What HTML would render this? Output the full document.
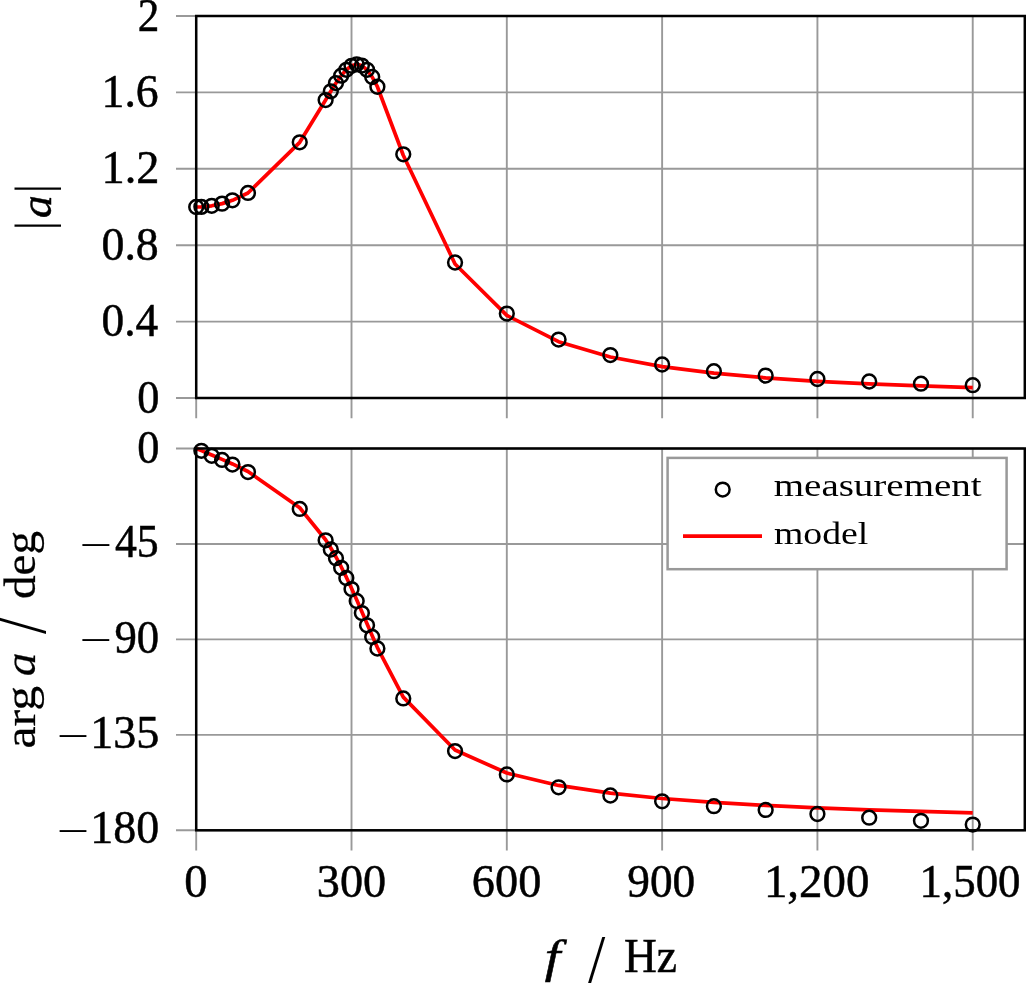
<!DOCTYPE html>
<html><head><meta charset="utf-8"><title>Bode plot</title>
<style>html,body{margin:0;padding:0;background:#fff;}svg{display:block;}</style>
</head><body>
<svg width="1026" height="983" viewBox="0 0 1026 983">
<rect width="1026" height="983" fill="#fff"/>
<g stroke="#999999" stroke-width="1.9" fill="none"><line x1="196.20" y1="16.00" x2="196.20" y2="418.20"/><line x1="351.51" y1="16.00" x2="351.51" y2="418.20"/><line x1="506.81" y1="16.00" x2="506.81" y2="418.20"/><line x1="662.12" y1="16.00" x2="662.12" y2="418.20"/><line x1="817.42" y1="16.00" x2="817.42" y2="418.20"/><line x1="972.73" y1="16.00" x2="972.73" y2="418.20"/><line x1="176.00" y1="398.00" x2="1024.50" y2="398.00"/><line x1="176.00" y1="321.60" x2="1024.50" y2="321.60"/><line x1="176.00" y1="245.20" x2="1024.50" y2="245.20"/><line x1="176.00" y1="168.80" x2="1024.50" y2="168.80"/><line x1="176.00" y1="92.40" x2="1024.50" y2="92.40"/><line x1="176.00" y1="16.00" x2="1024.50" y2="16.00"/></g>
<polyline points="196.20,207.00 201.38,206.87 211.73,205.80 222.08,203.63 232.44,200.31 247.97,192.97 299.74,142.31 325.62,100.06 330.80,91.30 335.98,83.04 341.15,75.70 346.33,69.79 351.51,65.83 356.68,64.30 361.86,65.58 367.04,69.84 372.21,77.00 377.39,86.74 403.27,155.27 455.04,263.96 506.81,315.38 558.58,341.72 610.35,356.97 662.12,366.65 713.89,373.20 765.66,377.86 817.42,381.30 869.19,383.91 920.96,385.95 972.73,387.57" fill="none" stroke="#f00" stroke-width="3.7" stroke-linejoin="round"/>
<g fill="none" stroke="#000" stroke-width="2.5"><circle cx="196.20" cy="207.00" r="6.9"/><circle cx="201.38" cy="206.87" r="6.9"/><circle cx="211.73" cy="205.80" r="6.9"/><circle cx="222.08" cy="203.63" r="6.9"/><circle cx="232.44" cy="200.31" r="6.9"/><circle cx="247.97" cy="192.97" r="6.9"/><circle cx="299.74" cy="142.31" r="6.9"/><circle cx="325.62" cy="100.06" r="6.9"/><circle cx="330.80" cy="91.30" r="6.9"/><circle cx="335.98" cy="83.04" r="6.9"/><circle cx="341.15" cy="75.70" r="6.9"/><circle cx="346.33" cy="69.79" r="6.9"/><circle cx="351.51" cy="65.83" r="6.9"/><circle cx="356.68" cy="64.30" r="6.9"/><circle cx="361.86" cy="65.58" r="6.9"/><circle cx="367.04" cy="69.84" r="6.9"/><circle cx="372.21" cy="77.00" r="6.9"/><circle cx="377.39" cy="86.74" r="6.9"/><circle cx="403.27" cy="154.30" r="6.9"/><circle cx="455.04" cy="262.50" r="6.9"/><circle cx="506.81" cy="313.60" r="6.9"/><circle cx="558.58" cy="339.60" r="6.9"/><circle cx="610.35" cy="355.10" r="6.9"/><circle cx="662.12" cy="364.50" r="6.9"/><circle cx="713.89" cy="371.20" r="6.9"/><circle cx="765.66" cy="375.60" r="6.9"/><circle cx="817.42" cy="379.00" r="6.9"/><circle cx="869.19" cy="381.50" r="6.9"/><circle cx="920.96" cy="383.70" r="6.9"/><circle cx="972.73" cy="385.20" r="6.9"/></g>
<rect x="196.2" y="16.0" width="828.60" height="382.00" fill="none" stroke="#000" stroke-width="2.5"/>
<g stroke="#999999" stroke-width="1.9" fill="none"><line x1="196.20" y1="448.50" x2="196.20" y2="850.50"/><line x1="351.51" y1="448.50" x2="351.51" y2="850.50"/><line x1="506.81" y1="448.50" x2="506.81" y2="850.50"/><line x1="662.12" y1="448.50" x2="662.12" y2="850.50"/><line x1="817.42" y1="448.50" x2="817.42" y2="850.50"/><line x1="972.73" y1="448.50" x2="972.73" y2="850.50"/><line x1="176.00" y1="448.50" x2="1024.50" y2="448.50"/><line x1="176.00" y1="543.95" x2="1024.50" y2="543.95"/><line x1="176.00" y1="639.40" x2="1024.50" y2="639.40"/><line x1="176.00" y1="734.85" x2="1024.50" y2="734.85"/><line x1="176.00" y1="830.30" x2="1024.50" y2="830.30"/></g>
<polyline points="196.20,448.50 201.38,450.63 211.73,454.92 222.08,459.33 232.44,463.94 247.97,471.46 299.74,507.74 325.62,539.73 330.80,548.01 335.98,557.00 341.15,566.73 346.33,577.16 351.51,588.23 356.68,599.81 361.86,611.75 367.04,623.83 372.21,635.84 377.39,647.57 403.27,697.15 455.04,749.99 506.81,773.03 558.58,785.44 610.35,793.19 662.12,798.53 713.89,802.45 765.66,805.47 817.42,807.86 869.19,809.82 920.96,811.45 972.73,812.83" fill="none" stroke="#f00" stroke-width="3.7" stroke-linejoin="round"/>
<g fill="none" stroke="#000" stroke-width="2.5"><circle cx="201.38" cy="450.80" r="6.9"/><circle cx="211.73" cy="455.80" r="6.9"/><circle cx="222.08" cy="459.90" r="6.9"/><circle cx="232.44" cy="464.60" r="6.9"/><circle cx="247.97" cy="472.10" r="6.9"/><circle cx="299.74" cy="508.90" r="6.9"/><circle cx="325.62" cy="540.30" r="6.9"/><circle cx="330.80" cy="549.50" r="6.9"/><circle cx="335.98" cy="558.20" r="6.9"/><circle cx="341.15" cy="567.80" r="6.9"/><circle cx="346.33" cy="578.00" r="6.9"/><circle cx="351.51" cy="589.10" r="6.9"/><circle cx="356.68" cy="601.00" r="6.9"/><circle cx="361.86" cy="613.10" r="6.9"/><circle cx="367.04" cy="625.30" r="6.9"/><circle cx="372.21" cy="636.90" r="6.9"/><circle cx="377.39" cy="648.50" r="6.9"/><circle cx="403.27" cy="698.40" r="6.9"/><circle cx="455.04" cy="751.10" r="6.9"/><circle cx="506.81" cy="774.40" r="6.9"/><circle cx="558.58" cy="787.30" r="6.9"/><circle cx="610.35" cy="795.50" r="6.9"/><circle cx="662.12" cy="801.30" r="6.9"/><circle cx="713.89" cy="806.20" r="6.9"/><circle cx="765.66" cy="809.90" r="6.9"/><circle cx="817.42" cy="814.00" r="6.9"/><circle cx="869.19" cy="817.70" r="6.9"/><circle cx="920.96" cy="820.80" r="6.9"/><circle cx="972.73" cy="824.60" r="6.9"/></g>
<rect x="196.2" y="448.5" width="828.60" height="381.80" fill="none" stroke="#000" stroke-width="2.5"/>
<rect x="667.6" y="457.9" width="339.0" height="111.3" fill="#fff" stroke="#999" stroke-width="2.5"/>
<circle cx="722.7" cy="489.6" r="6.9" fill="none" stroke="#000" stroke-width="2.5"/>
<line x1="683" y1="536.2" x2="762" y2="536.2" stroke="#f00" stroke-width="3.7"/>
<g font-family='"Liberation Serif", "DejaVu Serif", serif' fill="#000" stroke="#000" stroke-width="0.5">
<text x="137.65" y="30.60" font-size="46.8" textLength="21.58" lengthAdjust="spacingAndGlyphs">2</text>
<text x="101.53" y="107.00" font-size="46.8" textLength="57.18" lengthAdjust="spacingAndGlyphs">1.6</text>
<text x="101.58" y="183.40" font-size="46.8" textLength="57.93" lengthAdjust="spacingAndGlyphs">1.2</text>
<text x="101.50" y="259.80" font-size="46.8" textLength="57.29" lengthAdjust="spacingAndGlyphs">0.8</text>
<text x="101.52" y="336.20" font-size="46.8" textLength="56.74" lengthAdjust="spacingAndGlyphs">0.4</text>
<text x="137.16" y="412.60" font-size="46.8" textLength="22.18" lengthAdjust="spacingAndGlyphs">0</text>
<text x="137.16" y="463.10" font-size="46.8" textLength="22.18" lengthAdjust="spacingAndGlyphs">0</text>
<text x="114.90" y="557.10" font-size="46.8" textLength="43.76" lengthAdjust="spacingAndGlyphs">45</text>
<text x="79.41" y="558.00" font-size="39.0" stroke-width="0" textLength="32.72" lengthAdjust="spacingAndGlyphs">−</text>
<text x="114.41" y="652.55" font-size="46.8" textLength="44.75" lengthAdjust="spacingAndGlyphs">90</text>
<text x="79.62" y="653.45" font-size="39.0" stroke-width="0" textLength="32.60" lengthAdjust="spacingAndGlyphs">−</text>
<text x="90.20" y="748.00" font-size="46.8" textLength="69.04" lengthAdjust="spacingAndGlyphs">135</text>
<text x="56.83" y="748.90" font-size="39.0" stroke-width="0" textLength="32.48" lengthAdjust="spacingAndGlyphs">−</text>
<text x="90.21" y="843.45" font-size="46.8" textLength="68.99" lengthAdjust="spacingAndGlyphs">180</text>
<text x="56.83" y="844.35" font-size="39.0" stroke-width="0" textLength="32.48" lengthAdjust="spacingAndGlyphs">−</text>
<text x="184.28" y="896.50" font-size="46.8" textLength="23.24" lengthAdjust="spacingAndGlyphs">0</text>
<text x="316.84" y="896.50" font-size="46.8" textLength="69.37" lengthAdjust="spacingAndGlyphs">300</text>
<text x="471.86" y="896.50" font-size="46.8" textLength="69.45" lengthAdjust="spacingAndGlyphs">600</text>
<text x="627.29" y="896.50" font-size="46.8" textLength="67.99" lengthAdjust="spacingAndGlyphs">900</text>
<text x="763.93" y="896.50" font-size="46.8" textLength="105.51" lengthAdjust="spacingAndGlyphs">1,200</text>
<text x="919.61" y="896.50" font-size="46.8" textLength="100.95" lengthAdjust="spacingAndGlyphs">1,500</text>
<text x="544.82" y="971.60" font-size="46.5" font-style="italic" textLength="15.64" lengthAdjust="spacingAndGlyphs">f</text>
<text x="587.80" y="982.50" font-size="69.4" stroke-width="0" textLength="17.50" lengthAdjust="spacingAndGlyphs">/</text>
<text x="623.94" y="971.60" font-size="47.5" textLength="53.08" lengthAdjust="spacingAndGlyphs">Hz</text>
<text transform="translate(50.30,192.92) rotate(-90)" font-size="50.9" stroke-width="0" textLength="8.84" lengthAdjust="spacingAndGlyphs">|</text>
<text transform="translate(50.50,218.01) rotate(-90)" font-size="43.3" font-style="italic" textLength="22.77" lengthAdjust="spacingAndGlyphs">a</text>
<text transform="translate(50.30,230.02) rotate(-90)" font-size="50.9" stroke-width="0" textLength="8.84" lengthAdjust="spacingAndGlyphs">|</text>
<text transform="translate(34.90,748.60) rotate(-90)" font-size="45.2" stroke-width="0.25" textLength="62.61" lengthAdjust="spacingAndGlyphs">arg</text>
<text transform="translate(35.20,676.28) rotate(-90)" font-size="43.3" font-style="italic" stroke-width="0.25" textLength="23.52" lengthAdjust="spacingAndGlyphs">a</text>
<text transform="translate(45.00,634.00) rotate(-90)" font-size="69.4" stroke-width="0" textLength="16.40" lengthAdjust="spacingAndGlyphs">/</text>
<text transform="translate(34.90,598.98) rotate(-90)" font-size="45.2" stroke-width="0.25" textLength="68.15" lengthAdjust="spacingAndGlyphs">deg</text>
<text x="773.78" y="496.40" font-size="32" stroke-width="0.0" textLength="207.85" lengthAdjust="spacingAndGlyphs">measurement</text>
<text x="773.91" y="544.10" font-size="32" stroke-width="0.0" textLength="94.35" lengthAdjust="spacingAndGlyphs">model</text>
</g>
</svg>
</body></html>
